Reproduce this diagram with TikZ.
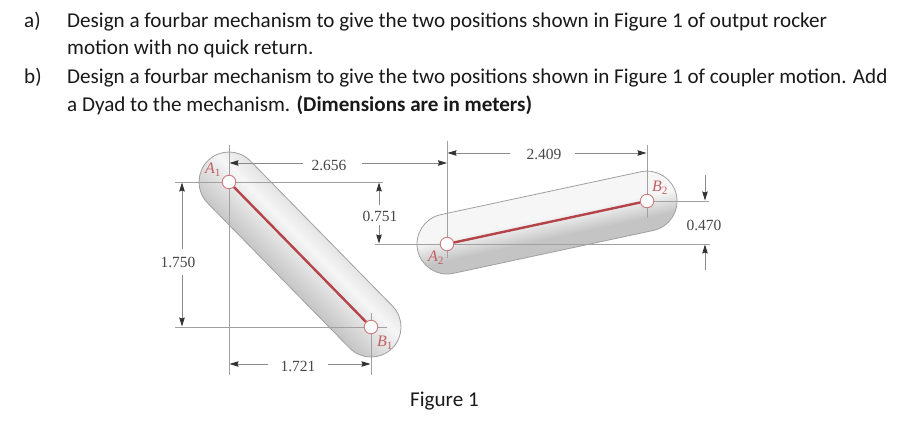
\documentclass[tikz,border=0pt]{standalone}
\usepackage{fontspec}
\setmainfont{Carlito}
\newfontfamily\dimfont{Liberation Serif}
\usetikzlibrary{arrows.meta}
\definecolor{dimc}{HTML}{8A8A8A}
\definecolor{linkedge}{HTML}{A0A0A0}
\definecolor{redbar}{HTML}{B5444A}
\definecolor{linklo}{HTML}{C4C4C4}
\definecolor{linkhi}{HTML}{F6F6F6}
\pgfdeclareverticalshading{bandone}{100bp}{color(0bp)=(linklo);color(42.5bp)=(linklo);color(53bp)=(linkhi);color(57.5bp)=(linkhi!92!black);color(100bp)=(linkhi!92!black)}
\pgfdeclareverticalshading{bandtwo}{100bp}{color(0bp)=(linklo);color(44bp)=(linklo);color(52bp)=(linkhi);color(56bp)=(linkhi);color(100bp)=(linkhi)}
\tikzset{
  body/.style={anchor=base west,inner sep=0pt,font=\fontsize{21.1}{25}\selectfont,text=black!90},
  dimtext/.style={inner sep=0pt,font=\dimfont\fontsize{15.5}{18}\selectfont,text=black!72},
  ptlabel/.style={inner sep=0pt,text=redbar!85,font=\dimfont\itshape\fontsize{16}{18}\selectfont},
  ext/.style={draw=dimc!80,line width=0.8pt},
  dimline/.style={draw=dimc,line width=0.8pt,-{Stealth[length=9pt,width=5.5pt,inset=1pt,black!80]}},
  bar/.style={draw=redbar,line width=2.4pt},
  pin/.style={circle,draw=redbar!70,fill=white,line width=0.9pt,minimum size=13.5pt,inner sep=0pt},
  linkbody/.style={draw=linkedge,line width=0.8pt}
}
\begin{document}
\begin{tikzpicture}[x=1pt,y=-1pt]
\useasboundingbox (0,0) rectangle (922,437);
\fill[white] (0,0) rectangle (922,437);
% text
\node[body] (qa) at (24,27) {a)};
\node[body] (qa1) at (67,27) {Design a fourbar mechanism to give the two positions shown in Figure 1 of output rocker};
\node[body] (qa2) at (67,54) {motion with no quick return.};
\node[body] (qb) at (24,83) {b)};
\node[body] (qb1) at (67,83) {Design a fourbar mechanism to give the two positions shown in Figure 1 of coupler motion. Add};
\node[body] (qb2) at (67,111) {a Dyad to the mechanism. \textbf{(Dimensions are in meters)}};
\node[body] (fig) at (410,406) {Figure 1};
% links
\begin{scope}[shift={(229,182)},rotate=-45.6]
\path[linkbody,shading=bandone,shading angle=-45] (0,-30) -- (203,-30) arc[start angle=90,end angle=-90,radius=30pt] -- (0,30) arc[start angle=-90,end angle=-270,radius=30pt] -- cycle;
\end{scope}
\begin{scope}[shift={(447,244)},rotate=12.1]
\path[linkbody,shading=bandtwo,shading angle=12.1] (0,-30) -- (204.6,-30) arc[start angle=90,end angle=-90,radius=30pt] -- (0,30) arc[start angle=-90,end angle=-270,radius=30pt] -- cycle;
\end{scope}
% extension end points
\coordinate (a1t) at (229,145); \coordinate (a1b) at (229,375);
\coordinate (a1l) at (175,182); \coordinate (a1r) at (383,182);
\coordinate (b1l) at (175,327); \coordinate (b1r) at (387,327);
\coordinate (b1t) at (371,313); \coordinate (b1b) at (371,375);
\coordinate (a2t) at (447,141); \coordinate (a2b) at (447,258);
\coordinate (a2l) at (375,244); \coordinate (a2r) at (710,244);
\coordinate (b2t) at (647,145); \coordinate (b2b) at (647,218);
\coordinate (b2l) at (647,201); \coordinate (b2r) at (709,201);
\draw[ext] (a1t)--(a1b);
\draw[ext] (a1l)--(a1r);
\draw[ext] (b1l)--(b1r);
\draw[ext] (b1t)--(b1b);
\draw[ext] (a2t)--(a2b);
\draw[ext] (a2l)--(a2r);
\draw[ext] (b2t)--(b2b);
\draw[ext] (b2l)--(b2r);
% pins and bars
\node[pin] (A1) at (229,182) {};
\node[pin] (B1) at (371,327) {};
\node[pin] (A2) at (447,244) {};
\node[pin] (B2) at (647,201) {};
\draw[bar] (A1)--(B1);
\draw[bar] (A2)--(B2);
\node[ptlabel] (lA1) at (213,170) {A\textsubscript{\upshape 1}};
\node[ptlabel] (lB1) at (385,343) {B\textsubscript{\upshape 1}};
\node[ptlabel] (lA2) at (436,258) {A\textsubscript{\upshape 2}};
\node[ptlabel] (lB2) at (660,188) {B\textsubscript{\upshape 2}};
% dimension labels
\node[dimtext] (d2656) at (329,165) {2.656};
\node[dimtext] (d2409) at (544,154) {2.409};
\node[dimtext] (d0751) at (380,216) {0.751};
\node[dimtext] (d0470) at (704,225) {0.470};
\node[dimtext] (d1750) at (178,262) {1.750};
\node[dimtext] (d1721) at (298,366) {1.721};
% dimension arrows
\coordinate (t2656l) at (229.5,163); \coordinate (t2656r) at (447,163);
\coordinate (t2409l) at (447.5,153); \coordinate (t2409r) at (646.5,153);
\coordinate (t1721l) at (229.5,364); \coordinate (t1721r) at (370.5,364);
\coordinate (t1750t) at (182,182.5); \coordinate (t1750b) at (182,326.5);
\coordinate (t0751t) at (379,182.5); \coordinate (t0751b) at (379,243.5);
\coordinate (t0470t) at (705,200.5); \coordinate (t0470b) at (705,244.5);
\coordinate (s0470t) at (705,175); \coordinate (s0470b) at (705,270);
\draw[dimline] (d2656.west)++(-8,-2) -- (t2656l);
\draw[dimline] (d2656.east)++(15,-2) -- (t2656r);
\draw[dimline] (d2409.west)++(-16,-1) -- (t2409l);
\draw[dimline] (d2409.east)++(13,-1) -- (t2409r);
\draw[dimline] (d1721.west)++(-12,-2) -- (t1721l);
\draw[dimline] (d1721.east)++(12,-2) -- (t1721r);
\draw[dimline] (d1750.north)++(4,-8) -- (t1750t);
\draw[dimline] (d1750.south)++(4,8) -- (t1750b);
\draw[dimline] (d0751.north)++(-1,-6) -- (t0751t);
\draw[dimline] (d0751.south)++(-1,4) -- (t0751b);
\draw[dimline] (s0470t) -- (t0470t);
\draw[dimline] (s0470b) -- (t0470b);
\end{tikzpicture}
\end{document}
